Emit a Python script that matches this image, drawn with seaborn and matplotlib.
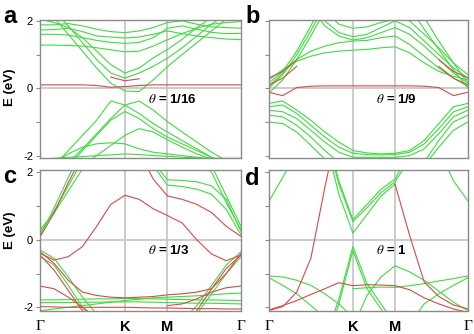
import numpy as np
import pandas as pd
import matplotlib
matplotlib.use("Agg")
import matplotlib.pyplot as plt
import seaborn as sns

nan = np.nan

# k-path positions (Gamma - K - M - Gamma)
K_PATH = [0.0, 0.222, 0.444, 0.667, 0.889, 1.111, 1.333, 1.556, 1.778, 2.0,
          2.231, 2.462, 2.693, 2.924, 3.155]
TICK_POS = [0.0, 1.333, 2.0, 3.155]
TICK_LABELS = ["Γ", "K", "M", "Γ"]
Y_TICKS = [-2, -1, 0, 1, 2]
Y_LABELS = ["-2", "", "0", "", "2"]
PANEL_LETTERS = ["a", "b", "c", "d"]
THETA_LABELS = ["1/16", "1/9", "1/3", "1"]

# ---------------- panel a (theta = 1/16) ----------------
A_RED = [
    [0.1, 0.1, 0.1, 0.1, 0.08, 0.03, 0.05, 0.08, 0.1, 0.1, 0.1, 0.1, 0.1, 0.1, 0.1],
    [nan, nan, nan, nan, nan, 0.33, 0.22, 0.28, nan, nan, nan, nan, nan, nan, nan],
]
A_GREEN = [
    [2.6, 2.1, 1.6, 1.1, 0.6, 0.15, -0.08, -0.1, 0.25, 0.64, 1.0, 1.35, 1.7, 2.05, 2.4],
    [2.8, 2.3, 1.85, 1.35, 0.85, 0.45, 0.3, 0.45, 0.65, 0.89, 1.2, 1.55, 1.9, 2.2, 2.5],
    [2.05, 1.95, 1.8, 1.5, 1.1, 0.7, 0.45, 0.6, 0.9, 1.15, 1.45, 1.8, 2.1, 2.3, 2.5],
    [1.28, 1.28, 1.27, 1.25, 1.2, 1.14, 1.08, 1.1, 1.25, 1.44, 1.62, 1.78, 1.9, 1.95, 1.98],
    [1.6, 1.6, 1.58, 1.5, 1.42, 1.36, 1.33, 1.36, 1.5, 1.78, 1.85, 1.75, 1.66, 1.62, 1.63],
    [1.73, 1.74, 1.78, 1.68, 1.55, 1.52, 1.49, 1.52, 1.6, 1.7, 1.62, 1.55, 1.5, 1.46, 1.44],
    [1.88, 1.88, 1.92, 1.85, 1.75, 1.68, 1.65, 1.7, 1.8, 1.95, 2.0, 1.9, 1.82, 1.8, 1.78],
    [-2.7, -2.3, -1.85, -1.4, -0.95, -0.38, -0.5, -0.75, -1.05, -1.3, -1.55, -1.8, -2.05, -2.3, -2.5],
    [-2.9, -2.6, -2.2, -1.8, -1.35, -0.9, -0.5, -0.38, -0.65, -0.99, -1.3, -1.6, -1.9, -2.15, -2.35],
    [-3.0, -2.7, -2.3, -1.85, -1.4, -0.95, -0.69, -0.9, -1.2, -1.45, -1.65, -1.85, -2.05, -2.2, -2.35],
    [-2.4, -2.2, -1.95, -1.75, -1.65, -1.62, -1.65, -1.8, -1.9, -1.95, -2.0, -2.05, -2.1, -2.1, -2.1],
    [-2.1, -2.08, -2.05, -2.03, -2.0, -1.98, -1.95, -1.97, -2.0, -2.02, -2.05, -2.07, -2.08, -2.08, -2.08],
    [-3.0, -2.9, -2.6, -2.3, -2.0, -1.7, -1.4, -1.2, -1.3, -1.53, -1.75, -1.95, -2.1, -2.2, -2.3],
]

# ---------------- panel b (theta = 1/9) ----------------
B_RED = [
    [-0.12, -0.22, 0.02, 0.06, 0.07, 0.07, 0.07, 0.07, 0.07, 0.07, 0.07, 0.06, 0.02, -0.22, -0.12],
    [0.1, 0.3, 0.65, nan, nan, nan, nan, nan, nan, nan, nan, nan, nan, nan, nan],
    [0.3, 0.5, 0.85, nan, nan, nan, nan, nan, nan, nan, nan, nan, nan, nan, nan],
    [nan, nan, nan, nan, nan, nan, nan, nan, nan, nan, nan, nan, 0.65, 0.3, 0.1],
    [nan, nan, nan, nan, nan, nan, nan, nan, nan, nan, nan, nan, 0.85, 0.5, 0.3],
]
B_GREEN = [
    [-0.15, 0.25, 0.85, 1.55, 2.3, 3.0, nan, nan, nan, nan, nan, nan, nan, nan, nan],
    [0.0, 0.4, 1.0, 1.7, 2.5, nan, nan, nan, nan, nan, nan, nan, nan, nan, nan],
    [0.15, 0.5, 1.1, 1.85, 2.7, nan, nan, nan, nan, nan, nan, nan, nan, nan, nan],
    [0.25, 0.55, 0.8, 0.95, 1.05, 1.1, 1.13, 1.15, 1.2, 1.23, 1.05, 0.75, 0.5, 0.35, 0.25],
    [0.05, 0.45, 0.85, 1.1, 1.25, 1.35, 1.4, 1.42, 1.5, 1.55, 1.3, 0.95, 0.6, 0.3, 0.05],
    [nan, nan, nan, 2.4, 1.85, 1.55, 1.43, 1.5, 1.65, 1.8, 1.6, 1.25, 0.85, 0.45, 0.15],
    [nan, nan, nan, 2.6, 2.0, 1.65, 1.53, 1.6, 1.8, 2.0, 1.8, 1.4, 1.0, 0.6, 0.3],
    [nan, nan, nan, nan, 2.3, 1.9, 1.78, 1.82, 1.95, 2.05, 2.0, 1.6, 1.2, 0.75, 0.4],
    [nan, nan, nan, nan, nan, nan, nan, nan, nan, 3.0, 2.4, 1.75, 1.15, 0.55, 0.0],
    [nan, nan, nan, nan, nan, nan, nan, nan, nan, nan, 2.8, 2.1, 1.4, 0.75, 0.15],
    [-0.45, -0.38, -0.65, -0.95, -1.3, -1.6, -1.85, -1.92, -1.95, -1.93, -1.85, -1.55, -1.05, -0.55, -0.45],
    [-0.55, -0.5, -0.75, -1.1, -1.45, -1.75, -1.93, -1.97, -1.98, -1.97, -1.9, -1.65, -1.2, -0.7, -0.55],
    [-0.65, -0.7, -0.9, -1.25, -1.6, -1.9, -2.05, -2.05, -2.05, -2.05, -2.0, -1.8, -1.35, -0.85, -0.65],
    [-0.8, -0.85, -1.1, -1.45, -1.85, -2.2, nan, nan, nan, nan, nan, -2.2, -1.55, -1.0, -0.8],
    [-1.0, -1.05, -1.3, -1.7, -2.1, nan, nan, nan, nan, nan, nan, -2.3, -1.75, -1.25, -1.0],
]

# ---------------- panel c (theta = 1/3) ----------------
C_RED = [
    [-0.4, -0.6, -0.5, -0.2, 0.4, 1.05, 1.32, 1.2, 0.92, 0.72, 0.5, 0.0, -0.42, -0.62, -0.45],
    [nan, nan, nan, nan, nan, nan, nan, 2.6, 1.8, 1.3, 1.2, 1.05, 0.81, 0.4, 0.1],
    [-0.35, -0.7, -1.2, -1.55, -1.65, -1.7, -1.72, -1.7, -1.68, -1.63, -1.6, -1.55, -1.45, -1.0, -0.4],
    [-1.37, -1.45, -1.7, -2.0, -2.3, nan, nan, nan, nan, nan, nan, nan, nan, nan, nan],
    [nan, nan, nan, nan, nan, nan, nan, nan, nan, -1.95, -1.9, -1.75, -1.55, -1.42, -1.37],
    [-0.45, -0.9, -1.5, -2.1, -2.6, nan, nan, nan, nan, nan, nan, nan, nan, nan, nan],
    [nan, nan, nan, nan, nan, nan, nan, nan, nan, nan, -2.6, -2.1, -1.45, -0.85, -0.45],
    [-1.98, -1.99, -2.0, -2.0, -2.0, -2.0, -2.0, -2.01, -2.02, -2.02, -2.03, -2.04, -2.04, -2.05, -2.05],
    [0.08, 0.8, 1.7, 2.5, nan, nan, nan, nan, nan, nan, nan, nan, nan, nan, nan],
]
C_GREEN = [
    [0.1, 0.95, 1.85, 2.7, nan, nan, nan, nan, nan, nan, nan, nan, nan, nan, nan],
    [0.2, 0.85, 1.6, 2.35, 3.0, nan, nan, nan, nan, nan, nan, nan, nan, nan, nan],
    [0.3, 0.8, 1.45, 2.1, 2.7, nan, nan, nan, nan, nan, nan, nan, nan, nan, nan],
    [nan, nan, nan, nan, nan, nan, nan, nan, 2.3, 1.78, 1.76, 1.72, 1.6, 1.2, 0.25],
    [nan, nan, nan, nan, nan, nan, nan, nan, 2.2, 1.62, 1.58, 1.5, 1.35, 0.9, 0.15],
    [nan, nan, nan, nan, nan, nan, nan, nan, nan, nan, nan, 2.5, 2.0, 1.1, 0.3],
    [nan, nan, nan, nan, nan, nan, nan, nan, nan, nan, nan, 2.7, 2.2, 1.3, 0.4],
    [-0.3, -0.55, -1.1, -1.7, -2.2, nan, nan, nan, nan, nan, nan, nan, nan, nan, nan],
    [-0.5, -0.75, -1.35, -2.0, -2.5, nan, nan, nan, nan, nan, nan, nan, nan, nan, nan],
    [-1.78, -1.78, -1.77, -1.76, -1.75, -1.75, -1.74, -1.74, -1.75, -1.76, -1.77, -1.78, -1.78, -1.79, -1.8],
    [-1.86, -1.86, -1.86, -1.85, -1.85, -1.84, -1.84, -1.84, -1.85, -1.86, -1.87, -1.88, -1.88, -1.89, -1.9],
    [-2.1, -2.05, -2.0, -1.95, -1.9, -1.85, -1.8, -1.76, -1.72, -1.7, -1.68, -1.66, -1.63, -1.6, -1.58],
    [nan, nan, nan, nan, nan, nan, nan, nan, nan, nan, -2.4, -1.95, -1.35, -0.75, -0.35],
    [nan, nan, nan, nan, nan, nan, nan, nan, nan, nan, -2.7, -2.2, -1.6, -1.0, -0.5],
]

# ---------------- panel d (theta = 1) ----------------
D_RED = [
    [-2.1, -1.98, -1.55, -0.55, 1.55, 3.5, nan, nan, nan, nan, nan, nan, nan, nan, nan],
    [nan, nan, nan, nan, nan, nan, nan, nan, nan, 1.65, 0.13, -1.25, -1.68, -1.93, -2.05],
    [-2.08, -1.95, -1.8, -1.62, -1.45, -1.27, -1.36, -1.33, -1.34, -1.36, -1.48, -1.72, -1.9, -2.05, -2.15],
]
D_GREEN = [
    [1.13, 1.85, 2.6, nan, nan, nan, nan, nan, nan, nan, nan, nan, nan, nan, nan],
    [nan, nan, nan, nan, nan, nan, nan, nan, nan, nan, nan, nan, 2.7, 1.75, 1.15],
    [nan, nan, nan, nan, 3.2, 1.65, 0.54, 0.95, 1.4, 1.72, 2.4, nan, nan, nan, nan],
    [nan, nan, nan, nan, 3.3, 1.75, 0.6, 1.05, 1.5, 1.8, 2.6, nan, nan, nan, nan],
    [nan, nan, nan, nan, 3.0, 1.35, 0.2, 0.75, 1.3, 1.65, nan, nan, nan, nan, nan],
    [nan, nan, nan, nan, -3.0, -1.75, -0.2, -1.3, -1.9, -2.5, nan, nan, nan, nan, nan],
    [nan, nan, nan, nan, -3.2, -1.9, -0.32, -1.45, -2.05, -2.6, nan, nan, nan, nan, nan],
    [nan, nan, nan, nan, nan, nan, -2.6, -1.65, -1.1, -0.77, -0.95, -1.2, -1.52, -1.85, -2.1],
    [-1.07, -1.1, -1.2, -1.35, -1.6, -1.9, -2.3, nan, nan, nan, nan, nan, nan, nan, nan],
    [-1.12, -1.35, -1.6, -1.95, -2.3, nan, nan, nan, nan, nan, nan, nan, nan, nan, nan],
    [nan, nan, nan, nan, nan, nan, -1.45, -1.42, -1.4, -1.41, -1.36, -1.3, -1.22, -1.15, -1.07],
    [nan, nan, nan, nan, nan, nan, nan, nan, nan, nan, -2.5, -1.9, -1.6, -1.35, -1.12],
]

GREEN = "#3fdc3f"
RED = "#d94a4a"
GRID_GRAY = "#c4c4c4"
FRAME_GRAY = "#8a8a8a"


def to_long(bands):
    rows = []
    seg = 0
    for band in bands:
        for k, e in zip(K_PATH, band):
            if e is None or np.isnan(e):
                seg += 1
                continue
            rows.append((k, e, seg))
        seg += 1
    return pd.DataFrame(rows, columns=["k", "E", "seg"])


plt.rcParams["mathtext.fontset"] = "stix"
fig = plt.figure(figsize=(4.74, 3.34), dpi=100)

positions = [
    [40 / 474, 1 - 158.3 / 334, 201 / 474, 138.8 / 334],
    [268.7 / 474, 1 - 158.3 / 334, 199.3 / 474, 138.8 / 334],
    [40 / 474, 1 - 310.5 / 334, 201 / 474, 140.5 / 334],
    [268.7 / 474, 1 - 310.5 / 334, 199.3 / 474, 140.5 / 334],
]
ylims = [(-2.08, 2.04), (-2.08, 2.04), (-2.095, 2.07), (-2.095, 2.07)]
panels = [(A_RED, A_GREEN), (B_RED, B_GREEN), (C_RED, C_GREEN), (D_RED, D_GREEN)]

for i, (reds, greens) in enumerate(panels):
    ax = fig.add_axes(positions[i])
    ax.axhline(0, color=GRID_GRAY, lw=1.2, zorder=0)
    for xv in TICK_POS[1:3]:
        ax.axvline(xv, color=GRID_GRAY, lw=1.2, zorder=0)
    sns.lineplot(data=to_long(greens), x="k", y="E", units="seg", estimator=None,
                 sort=False, color=GREEN, lw=0.8, ax=ax, legend=False)
    sns.lineplot(data=to_long(reds), x="k", y="E", units="seg", estimator=None,
                 sort=False, color=RED, lw=0.8, ax=ax, legend=False)
    ax.set_xlim(0, 3.155)
    ax.set_ylim(*ylims[i])
    ax.set_xlabel("")
    ax.set_ylabel("")
    for s in ax.spines.values():
        s.set_color(FRAME_GRAY)
        s.set_linewidth(1.0)
    ax.set_yticks(Y_TICKS)
    if i in (0, 2):
        ax.set_yticklabels(Y_LABELS, fontsize=8, family="Liberation Sans")
    else:
        ax.set_yticklabels([])
    ax.tick_params(axis="y", direction="out", length=3, width=0.8, color=FRAME_GRAY, pad=2)
    if i in (2, 3):
        ax.set_xticks(TICK_POS)
        ax.set_xticklabels(TICK_LABELS)
        for j, lab in enumerate(ax.get_xticklabels()):
            if TICK_LABELS[j] == "Γ":
                lab.set_family("Liberation Serif")
                lab.set_fontsize(11)
            else:
                lab.set_family("Liberation Sans")
                lab.set_fontweight("bold")
                lab.set_fontsize(10.5)
        ax.tick_params(axis="x", length=0, pad=7)
    else:
        ax.set_xticks([])
    ax.text(1.70, -0.32, r"$\theta$ = " + THETA_LABELS[i], fontsize=9.5, fontweight="bold",
            family="Liberation Sans", ha="left", va="center")

letter_pos = [(3, 23), (245, 23), (3, 183), (245, 185)]
for letter, (px, py) in zip(PANEL_LETTERS, letter_pos):
    fig.text(px / 474, 1 - py / 334, letter, fontsize=17, fontweight="bold",
             family="Liberation Sans", va="baseline", ha="left")

for cy in (87, 230):
    fig.text(10 / 474, 1 - cy / 334, "E (eV)", rotation=90, fontsize=9.5, fontweight="bold",
             family="Liberation Sans", ha="center", va="center")

fig.savefig("out.png", dpi=100)
